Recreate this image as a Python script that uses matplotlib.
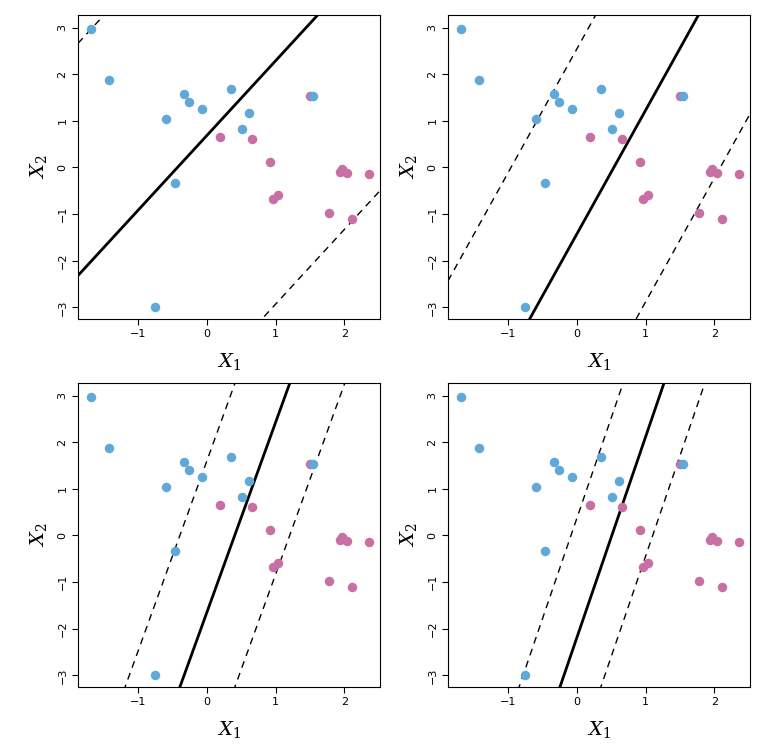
import numpy as np
import matplotlib
matplotlib.use("Agg")
import matplotlib.pyplot as plt

BLUE, PINK = "#5fa9d9", "#c870a4"
blue_x = [-1.69, -1.43, -0.60, -0.33, -0.26, -0.07, 0.35, 0.51, 0.61, -0.47, -0.76, 1.54]
blue_y = [2.97, 1.87, 1.03, 1.57, 1.40, 1.25, 1.68, 0.82, 1.16, -0.34, -3.00, 1.53]
pink_x = [0.19, 0.65, 0.92, 0.96, 1.03, 1.50, 1.94, 1.96, 2.04, 1.78, 2.11, 2.36]
pink_y = [0.65, 0.60, 0.11, -0.67, -0.60, 1.53, -0.09, -0.04, -0.11, -0.97, -1.10, -0.13]

# (slope, solid intercept, upper dashed intercept, lower dashed intercept)
slopes = [1.6, 2.65, 4.07, 4.3]
b_solid = [0.69, -1.42, -1.64, -2.18]
b_up = [5.67, 2.55, 1.61, 0.38]
b_lo = [-4.53, -5.53, -4.90, -4.74]

plt.rcParams["mathtext.fontset"] = "dejavuserif"
fig = plt.figure(figsize=(7.62, 7.49), dpi=100)
W, H = 762, 749
boxes = [(78, 15), (448, 15), (78, 383), (448, 383)]
xlim, ylim = (-1.88, 2.52), (-3.25, 3.27)
xs = np.array(xlim)
for k, (x0, y0) in enumerate(boxes):
    ax = fig.add_axes([x0 / W, 1 - (y0 + 304) / H, 302 / W, 304 / H])
    ax.scatter(pink_x, pink_y, s=34, color=PINK, zorder=3)
    ax.scatter(blue_x, blue_y, s=34, color=BLUE, zorder=3)
    m = slopes[k]
    ax.plot(xs, m * xs + b_solid[k], color="black", lw=2, zorder=2)
    ax.plot(xs, m * xs + b_up[k], color="black", lw=1, ls=(0, (5, 4)), zorder=2)
    ax.plot(xs, m * xs + b_lo[k], color="black", lw=1, ls=(0, (5, 4)), zorder=2)
    ax.set_xlim(xlim); ax.set_ylim(ylim)
    ax.set_xticks([-1, 0, 1, 2]); ax.set_yticks([-3, -2, -1, 0, 1, 2, 3])
    ax.tick_params(labelsize=8, length=4)
    for t in ax.get_yticklabels():
        t.set_rotation(90); t.set_va("center")
    ax.set_xlabel("$X_1$", fontsize=14, labelpad=8)
    ax.set_ylabel("$X_2$", fontsize=14, labelpad=6)

fig.savefig("out.png", dpi=100)
